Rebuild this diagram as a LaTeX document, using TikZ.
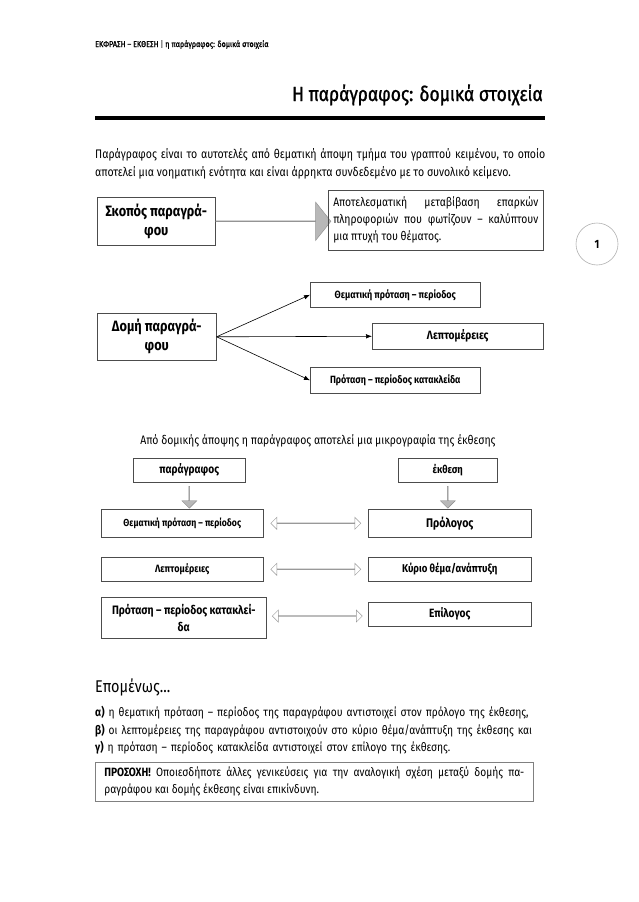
\documentclass[tikz,border=0pt]{standalone}
\usepackage{fontspec}
\setmainfont{Fira Sans}[FakeStretch=0.85]
\newfontfamily\headfont{Fira Sans}[FakeStretch=0.85, FakeBold=1.2]
\usetikzlibrary{positioning,calc,shapes.arrows,arrows.meta}

\tikzset{
  box/.style={draw=black!70, line width=0.6pt, align=center, anchor=north west, inner sep=3pt},
  bluebox/.style={box, font=\bfseries\fontsize{10.5}{13}\selectfont},
  downarrow/.style={single arrow, shape border rotate=270, fill=black!28, draw=black!45,
    minimum height=22, minimum width=15, single arrow head extend=3.5, inner sep=0pt},
  pairarrow/.style={double arrow, fill=white, draw=black!40, line width=0.5pt,
    minimum height=90, minimum width=12, double arrow head extend=3.5, inner sep=0pt},
  sharp/.style={-{Latex[length=6pt,width=4.5pt]}, line width=0.6pt},
}

\begin{document}
\begin{tikzpicture}[x=1pt,y=-1pt]
  \useasboundingbox[fill=white] (0,0) rectangle (638,902);

  % header and title
  \node[anchor=base west, inner sep=0pt, font=\headfont\fontsize{8.5}{10}\selectfont] (hdr) at (95,47)
    {ΕΚΦΡΑΣΗ – ΕΚΘΕΣΗ | η παράγραφος: δομικά στοιχεία};
  \node[anchor=base east, inner sep=0pt, font=\headfont\fontsize{20.5}{24}\selectfont] (title) at (543,101)
    {Η παράγραφος: δομικά στοιχεία};
  \draw[line width=3.5pt] (95,118) -- (545,118);

  \node[anchor=north west, inner sep=0pt, text width=450, align=justify,
    font=\fontsize{12.4}{18}\selectfont] (intro) at (95,148)
    {Παράγραφος είναι το αυτοτελές από θεματική άποψη τμήμα του γραπτού κειμένου, το οποίο\linebreak
     αποτελεί μια νοηματική ενότητα και είναι άρρηκτα συνδεδεμένο με το συνολικό κείμενο.};

  % purpose
  \node[box, minimum width=118, minimum height=48, font=\bfseries\fontsize{15}{19}\selectfont]
    (skopos) at (97,197) {Σκοπός παραγρά-\\φου};
  \node[single arrow, anchor=tail, fill=black!28, draw=black!42, line width=0.5pt,
    minimum height=115, minimum width=38, single arrow head extend=10.5,
    single arrow tip angle=103, inner sep=0pt] (bigarrow) at (skopos.east) {};
  \node[box, minimum width=215, minimum height=60, text width=205, align=justify,
    font=\fontsize{12.2}{17}\selectfont] (meta) at (328,190)
    {Αποτελεσματική μεταβίβαση επαρκών\linebreak πληροφοριών που φωτίζουν – καλύπτουν\linebreak μια πτυχή του θέματος.};

  \node[circle, draw=black!30, line width=0.6pt, minimum size=42,
    font=\bfseries\fontsize{12}{13}\selectfont] (page) at (597,244) {1};

  % structure
  \node[box, minimum width=119, minimum height=47, font=\bfseries\fontsize{15}{19}\selectfont]
    (domi) at (97,313) {Δομή παραγρά-\\φου};
  \node[bluebox, minimum width=170, minimum height=25] (them) at (310,282)
    {Θεματική πρόταση – περίοδος};
  \node[bluebox, minimum width=171, minimum height=26, font=\bfseries\fontsize{12}{13}\selectfont]
    (lept) at (372,323) {Λεπτομέρειες};
  \node[bluebox, minimum width=170, minimum height=26] (kata) at (310,367)
    {Πρόταση – περίοδος κατακλείδα};
  \draw[sharp] (domi.east) -- (them.west);
  \draw[sharp] (domi.east) -- (lept.west);
  \draw[sharp] (domi.east) -- (kata.west);

  % paragraph vs essay
  \node[anchor=base, inner sep=0pt, font=\fontsize{12.3}{13}\selectfont] (micro) at (318,444)
    {Από δομικής άποψης η παράγραφος αποτελεί μια μικρογραφία της έκθεσης};
  \node[bluebox, minimum width=112, minimum height=24, font=\bfseries\fontsize{12}{13}\selectfont]
    (par) at (133,458) {παράγραφος};
  \node[bluebox, minimum width=99, minimum height=24, font=\bfseries\fontsize{11}{13}\selectfont]
    (ekth) at (398,458) {έκθεση};

  \node[box, minimum width=162, minimum height=28, font=\bfseries\fontsize{10.2}{12}\selectfont]
    (lone) at (101,509) {Θεματική πρόταση – περίοδος};
  \node[box, minimum width=163, minimum height=28, font=\bfseries\fontsize{12.5}{13}\selectfont]
    (rone) at (368,509) {Πρόλογος};
  \node[box, minimum width=162, minimum height=24, font=\bfseries\fontsize{10.6}{12}\selectfont]
    (ltwo) at (101,557) {Λεπτομέρειες};
  \node[box, minimum width=163, minimum height=24, font=\bfseries\fontsize{11.3}{13}\selectfont]
    (rtwo) at (368,557) {Κύριο θέμα/ανάπτυξη};
  \node[box, minimum width=165, minimum height=41, font=\bfseries\fontsize{12.2}{17}\selectfont]
    (lthree) at (101,597) {Πρόταση – περίοδος κατακλεί-\\δα};
  \node[box, minimum width=163, minimum height=24, font=\bfseries\fontsize{12}{13}\selectfont]
    (rthree) at (368,602) {Επίλογος};

  \node[downarrow] (dpar) at (par.south |- 0,497) {};
  \node[downarrow] (dekth) at (ekth.south |- 0,497) {};

  \node[pairarrow] (pone) at ($(lone.east)!0.5!(rone.west)$) {};
  \node[pairarrow] (ptwo) at ($(ltwo.east)!0.5!(rtwo.west)$) {};
  \node[pairarrow] (pthree) at ($(lthree.east)!0.5!(rthree.west)$) {};

  % conclusion
  \node[anchor=base west, inner sep=0pt, font=\fontsize{17}{19}\selectfont] (epom) at (95,692)
    {Επομένως...};
  \node[anchor=north west, inner sep=0pt, text width=470, align=left,
    font=\fontsize{12}{17.5}\selectfont] (list) at (95,706)
    {\textbf{α)} η θεματική πρόταση – περίοδος της παραγράφου αντιστοιχεί στον πρόλογο της έκθεσης,\\
     \textbf{β)} οι λεπτομέρειες της παραγράφου αντιστοιχούν στο κύριο θέμα/ανάπτυξη της έκθεσης και\\
     \textbf{γ)} η πρόταση – περίοδος κατακλείδα αντιστοιχεί στον επίλογο της έκθεσης.};
  \node[draw=black!50, line width=0.6pt, anchor=north west, minimum width=438, minimum height=39,
    text width=420, align=justify, inner xsep=9pt, inner ysep=4pt,
    font=\fontsize{12}{17}\selectfont] (prosoxi) at (95,762)
    {\textbf{ΠΡΟΣΟΧΗ!} Οποιεσδήποτε άλλες γενικεύσεις για την αναλογική σχέση μεταξύ δομής πα-\linebreak
     ραγράφου και δομής έκθεσης είναι επικίνδυνη.};
\end{tikzpicture}
\end{document}
